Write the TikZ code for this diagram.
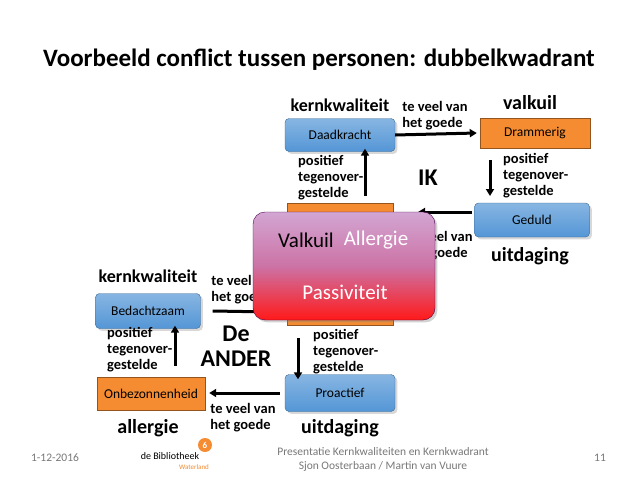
\documentclass[tikz,border=0pt]{standalone}
\usepackage{fontspec}
\setmainfont{Carlito}
\usetikzlibrary{arrows.meta,shadows}
\definecolor{bluebox}{RGB}{84,150,214}
\definecolor{orangebox}{RGB}{245,140,50}
\definecolor{footgray}{RGB}{120,120,120}
\tikzset{
 bbox/.style={draw=bluebox!70!black,rounded corners=4pt,top color=bluebox!70!white,bottom color=bluebox,drop shadow={opacity=0.3},font=\fontsize{13.5}{15}\selectfont,text=black,inner sep=0},
 obox/.style={draw=orangebox!60!black,fill=orangebox,font=\fontsize{13.5}{15}\selectfont,inner sep=0},
 arr/.style={-{Triangle[length=7pt,width=8pt]},line width=3pt},
 lbl/.style={font=\bfseries\fontsize{14.5}{16}\selectfont,align=left,inner sep=0},
 head/.style={font=\bfseries\fontsize{18}{20}\selectfont,inner sep=0},
 hbig/.style={font=\bfseries\fontsize{20}{22}\selectfont,inner sep=0},
 big/.style={font=\bfseries\fontsize{24}{25}\selectfont,align=center,inner sep=0},
 foot/.style={font=\fontsize{11.5}{14}\selectfont,text=footgray,align=center,inner sep=0}
}
\begin{document}
\begin{tikzpicture}[x=1pt,y=-1pt]
\useasboundingbox[fill=white] (0,0) rectangle (638,479);
\node[font=\bfseries\fontsize{25}{28}\selectfont] (title) at (319,60) {Voorbeeld conflict tussen personen: dubbelkwadrant};
% top quadrant
\node[bbox,minimum width=110pt,minimum height=33pt] (daad) at (340,135) {Daadkracht};
\node[obox,minimum width=110pt,minimum height=30pt] (dram) at (535,133) {Drammerig};
\node[bbox,minimum width=115pt,minimum height=34pt] (ged) at (532,220) {Geduld};
\node[obox,minimum width=106pt,minimum height=122pt] (back) at (340,264) {};
\node[head] (kk1) at (340,105) {kernkwaliteit};
\node[hbig] (vk) at (530,103) {valkuil};
\node[hbig] (ui1) at (530,256) {uitdaging};
\draw[arr] (daad.east) -- ([xshift=-3pt]dram.west);
\node[lbl] (l1) at (435,116) {te veel van\\het goede};
\draw[arr] (490,160) coordinate (c1) -- (490,196) coordinate (c2);
\node[lbl,anchor=west] (l2) at (503,176) {positief\\tegenover-\\gestelde};
\draw[arr] ([xshift=-2pt]ged.west |- 0,212) coordinate (c3) -- (418,212) coordinate (c4);
\node[lbl] (l3) at (440,246) {te veel van\\het goede};
\draw[arr] (365,196) coordinate (c5) -- ([yshift=3pt]daad.south -| 365,0);
\node[lbl,anchor=west] (l4) at (298,178) {positief\\tegenover-\\gestelde};
\node[big] (ik) at (428,178) {IK};
% bottom quadrant
\node[bbox,minimum width=105pt,minimum height=35pt] (bed) at (148,311) {Bedachtzaam};
\node[obox,minimum width=108pt,minimum height=33pt] (onb) at (151,394) {Onbezonnenheid};
\node[bbox,minimum width=110pt,minimum height=37pt] (pro) at (340,393) {Proactief};
\node[head] (kk2) at (148,276) {kernkwaliteit};
\node[hbig] (al) at (148,428) {allergie};
\node[hbig] (ui2) at (340,428) {uitdaging};
\draw[arr] ([xshift=12pt]bed.east) -- (272,312) coordinate (c6);
\node[lbl] (l5) at (244,290) {te veel van\\het goede};
\draw[arr] (175,366) coordinate (c7) -- ([yshift=3pt]bed.south -| 175,0);
\node[lbl,anchor=west] (l6) at (107,350) {positief\\tegenover-\\gestelde};
\draw[arr] (298,338) coordinate (c8) -- ([yshift=-5pt]pro.north -| 298,0);
\node[lbl,anchor=west] (l7) at (313,352) {positief\\tegenover-\\gestelde};
\draw[arr] ([xshift=-5pt]pro.west |- 0,393) -- ([xshift=4pt]onb.east |- 0,393);
\node[lbl] (l8) at (243,418) {te veel van\\het goede};
\node[big] (ander) at (236,346) {De\\ANDER};
% front box
\node[draw=violet!60!black,rounded corners=12pt,top color=violet!35!white,bottom color=red!90!white,middle color=violet!40!pink,minimum width=182pt,minimum height=108pt,drop shadow={opacity=0.35}] (front) at (344,266) {};
\node[font=\fontsize{21}{23}\selectfont,inner sep=0] (fv) at (306,240) {Valkuil};
\node[font=\fontsize{21}{23}\selectfont,text=white,inner sep=0] (fa) at (376,240) {Allergie};
\node[font=\fontsize{21}{23}\selectfont,text=white,inner sep=0] (fp) at (345,292) {Passiviteit};
% footer
\node[foot] (date) at (55,458) {1-12-2016};
\node[font=\fontsize{10}{11}\selectfont,inner sep=0] (logo) at (170,456) {de Bibliotheek};
\node[font=\fontsize{7}{8}\selectfont,text=orangebox,inner sep=0] (logo2) at (194,467) {Waterland};
\node[circle,fill=orangebox,minimum size=14pt,inner sep=0,text=white,font=\bfseries\fontsize{9}{9}\selectfont] (logoc) at (205,445) {6};
\node[foot] (pres) at (383,459) {Presentatie Kernkwaliteiten en Kernkwadrant\\Sjon Oosterbaan / Martin van Vuure};
\node[foot] (page) at (600,458) {11};
\end{tikzpicture}
\end{document}
